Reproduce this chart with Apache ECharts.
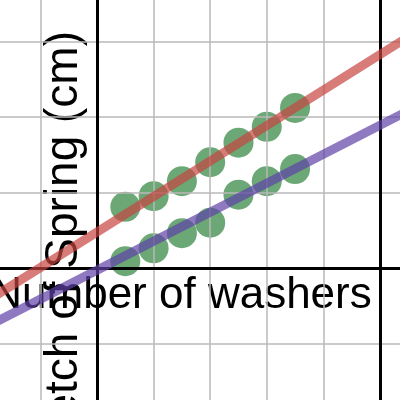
<!DOCTYPE html><html><head><meta charset="utf-8"><script src="https://cdn.jsdelivr.net/npm/echarts@6/dist/echarts.min.js"></script>
<style>html,body{margin:0;padding:0;background:#fff}#c{width:400px;height:400px}</style></head><body><div id="c"></div><script>
const washers=[1,2,3,4,5,6,7];
const stretchA=[0.81,0.95,1.15,1.40,1.66,1.87,2.12];
const stretchB=[0.09,0.26,0.46,0.60,0.97,1.15,1.31];
const fitA={slope:0.235,intercept:0.476};
const fitB={slope:0.192,intercept:-0.03};
const lineX=[-3.6,10.9];
const xGrid=[-2,2,4,6,8];
const yGrid=[-1,1,2,3];
const xAxes=[0,10];
const yAxes=[0];
const xMin=-3.43,xMax=10.71,yMin=-1.75,yMax=3.55;
const chart=echarts.init(document.getElementById('c'));
const thin={color:'#b8b8b8',width:1.5,type:'solid'};
const thick={color:'#000',width:3,type:'solid'};
function vl(v,s){return {xAxis:v,lineStyle:s};}
function hl(v,s){return {yAxis:v,lineStyle:s};}
chart.setOption({
animation:false,
grid:{left:0,right:0,top:0,bottom:0},
xAxis:{type:'value',min:xMin,max:xMax,show:false},
yAxis:{type:'value',min:yMin,max:yMax,show:false},
graphic:[
{type:'text',z:1,x:181,y:296,style:{text:'Number of washers',font:'44px Liberation Sans, Arial',fill:'#000',textAlign:'center',textVerticalAlign:'middle'}},
{type:'text',z:1,x:64,y:31,rotation:Math.PI/2,style:{text:'Stretch of Spring (cm)',font:'46px Liberation Sans, Arial',fill:'#000',textAlign:'right',textVerticalAlign:'middle'}}
],
series:[
{type:'line',data:[],silent:true,markLine:{silent:true,symbol:'none',label:{show:false},
 data:xGrid.map(v=>vl(v,thin)).concat(yGrid.map(v=>hl(v,thin))).concat(xAxes.map(v=>vl(v,thick))).concat(yAxes.map(v=>hl(v,thick)))}},
{type:'scatter',z:3,symbolSize:30,data:washers.map((x,i)=>[x,stretchA[i]]),itemStyle:{color:'rgba(50,135,65,0.9)'}},
{type:'scatter',z:3,symbolSize:30,data:washers.map((x,i)=>[x,stretchB[i]]),itemStyle:{color:'rgba(50,135,65,0.9)'}},
{type:'line',z:5,symbol:'none',data:lineX.map(x=>[x,fitA.intercept+fitA.slope*x]),lineStyle:{color:'rgba(199,68,64,0.7)',width:9}},
{type:'line',z:5,symbol:'none',data:lineX.map(x=>[x,fitB.intercept+fitB.slope*x]),lineStyle:{color:'rgba(96,66,166,0.7)',width:9}}
]});
</script></body></html>
